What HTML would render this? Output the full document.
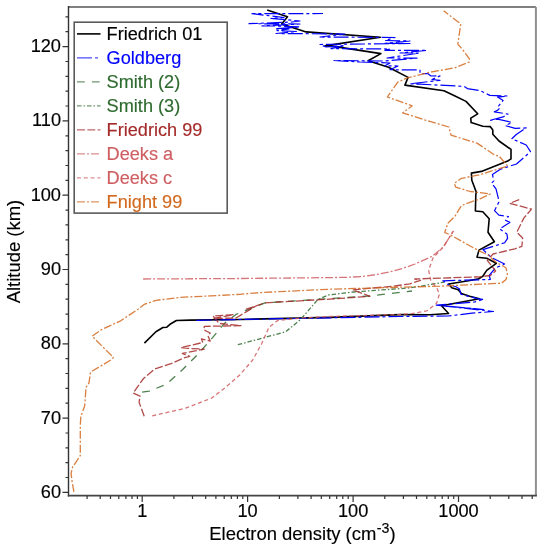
<!DOCTYPE html>
<html><head><meta charset="utf-8"><style>html,body{margin:0;padding:0;background:#fff;width:546px;height:550px;overflow:hidden;}svg{display:block;}</style></head><body>
<svg width="546" height="550" viewBox="0 0 546 550">
<style>text{font-family:"Liberation Sans",Arial,Helvetica,sans-serif;stroke-width:0.15px;}</style>
<rect width="546" height="550" fill="#fff"/>
<g fill="none" stroke-linejoin="round" stroke-linecap="butt">
<polyline points="144.4,343.1 155.9,331.7 162.9,327.5 166.8,327.2 170.0,324.3 176.4,320.5 190.5,320.1 240.0,319.5 330.0,317.4 400.0,314.6 430.0,314.7 448.6,313.5 441.5,305.8 479.4,298.7 469.7,296.2 461.4,293.6 458.2,289.7 451.8,287.8 448.6,284.0 468.5,280.8 478.7,278.8 482.8,276.2 486.7,270.4 496.3,263.3 486.7,258.2 477.0,257.2 479.0,250.1 494.4,241.8 488.0,232.2 489.2,218.7 482.8,211.7 475.4,211.0 475.8,195.0 476.2,191.9 471.8,180.2 471.4,173.1 481.4,171.4 507.7,161.1 511.0,158.9 511.0,149.4 499.0,141.0 492.8,134.3 492.8,130.0 490.2,126.6 482.8,126.3 471.1,122.6 470.8,118.2 477.7,113.8 466.0,101.4 455.0,96.0 444.0,90.8 404.9,85.1 408.1,77.4 388.5,67.3 368.1,60.7 380.9,53.6 335.4,46.6 325.1,45.9 380.3,37.2 306.1,31.9 281.7,24.0 287.5,16.8 267.2,9.9" stroke="#000000" stroke-width="1.6"/>
<polyline points="196.5,320.3 400.0,316.5 448.0,316.0 472.0,313.2 493.5,311.5 442.8,305.8 483.8,309.6 436.4,305.1 474.9,301.9 482.6,299.4 477.4,298.7 460.8,294.2 459.5,289.1 455.6,286.5 449.2,285.3 442.8,280.8 490.3,279.5 489.2,275.5 495.6,267.8 504.6,264.0 491.8,257.8 482.9,249.6 493.1,246.4 504.7,242.7 507.6,238.4 506.9,234.0 499.6,228.9 509.8,222.4 505.5,220.2 508.4,216.5 498.9,215.1 494.5,210.7 498.9,202.0 498.2,197.6 496.0,188.9 491.6,183.1 493.8,180.9 492.4,174.4 500.4,169.2 516.5,164.0 530.5,151.6 526.2,145.0 519.6,142.1 511.9,138.8 516.3,134.5 526.2,127.9 515.2,128.4 505.3,125.7 511.9,122.4 497.6,119.1 488.8,120.7 503.1,116.9 508.0,114.1 494.3,111.9 497.6,110.3 500.3,107.5 498.7,105.9 503.1,100.4 497.6,97.1 507.5,96.0 489.9,95.4 484.4,92.7 480.0,90.5 467.3,88.6 464.0,86.4 420.0,84.2 410.0,83.8 440.0,80.3 432.0,79.5 440.0,75.9 431.0,76.0 428.0,73.7 420.0,73.5 420.0,70.0 390.0,69.7 398.0,66.0 385.0,65.8 390.0,63.0 360.0,62.0 334.0,60.5 385.0,61.0 417.0,58.1 387.0,58.0 420.0,53.0 400.0,53.0 427.0,50.4 385.0,50.4 390.0,49.0 331.0,48.6 345.0,45.5 326.0,47.0 320.0,44.5 410.0,43.5 385.0,43.4 410.0,41.0 385.0,40.5 395.0,37.5 320.0,37.0 345.0,34.0 276.0,33.5 297.0,31.5 277.0,30.6 289.0,29.0 275.0,28.8 300.0,27.0 277.0,26.0 262.0,25.9 300.0,24.0 249.0,23.7 292.0,22.0 300.0,21.0 271.0,18.4 284.0,17.5 252.0,13.7 323.0,13.5" stroke="#0000ff" stroke-width="1.2" stroke-dasharray="15 3 3 3"/>
<polyline points="142.1,392.1 149.2,391.1 166.2,384.3 182.7,369.5 197.5,354.7 211.7,338.7 224.5,323.3 236.0,314.4 247.6,309.9 265.0,302.8 330.0,298.6 369.0,296.0 412.0,291.0" stroke="#2e6b2e" stroke-width="1.3" stroke-dasharray="7.8 7.1" stroke-opacity="0.85"/>
<polyline points="237.8,344.7 261.6,338.3 285.4,331.9 300.1,320.0 317.9,299.5 328.9,294.9 353.0,292.0 410.0,287.9 444.0,282.2" stroke="#2e6b2e" stroke-width="1.3" stroke-dasharray="4.5 2 1.5 2" stroke-opacity="0.85"/>
<polyline points="144.2,416.3 139.1,402.2 140.1,396.1 133.1,393.1 143.5,378.5 154.7,369.0 171.1,363.7 183.8,357.9 189.7,356.4 182.3,353.5 204.3,349.1 188.2,348.4 180.9,347.6 202.8,342.5 201.4,338.8 210.2,341.0 208.0,336.0 210.2,333.0 204.0,330.0 204.3,326.4 241.0,325.6 219.0,323.4 213.1,316.1 233.6,314.7 213.0,318.5 236.0,318.0 254.9,306.6 246.3,309.2 265.0,302.8 330.0,299.1 369.9,296.3 352.6,289.9 395.0,286.0 410.0,283.8 420.5,280.4 414.7,279.0 480.0,276.8 490.5,275.5 495.6,271.0 487.3,260.4 493.1,254.0 514.9,248.8 521.9,246.3 522.6,238.0 516.8,232.2 523.8,218.1 531.5,209.1 509.7,203.3 519.4,199.5" stroke="#a52a2a" stroke-width="1.3" stroke-dasharray="8 2.3" stroke-opacity="0.85"/>
<polyline points="143.1,279.0 240.0,278.5 320.0,277.7 345.0,277.4 362.0,276.6 376.0,274.6 390.0,271.8 402.0,268.6 415.0,264.0 432.3,256.2 443.3,247.0 453.4,231.0" stroke="#cf5e62" stroke-width="1.3" stroke-dasharray="8 2 2 2" stroke-opacity="0.85"/>
<polyline points="152.2,415.9 185.5,408.2 211.7,398.1 225.0,387.8 239.7,374.9 252.5,360.3 261.6,343.8 269.0,327.3 277.6,320.5 303.3,317.8 330.0,316.5 400.0,314.5 412.8,313.4 427.5,310.6 436.6,303.3 439.4,294.2 437.4,289.2 430.8,280.4 428.6,270.2 433.0,258.0 443.3,247.0 453.4,231.0" stroke="#cf5e62" stroke-width="1.3" stroke-dasharray="4 2.8" stroke-opacity="0.85"/>
<polyline points="73.9,491.9 72.0,481.1 71.1,473.4 72.6,467.0 76.5,461.3 80.3,455.6 80.3,425.0 80.9,416.1 84.7,405.9 86.0,387.4 89.0,382.9 90.5,372.1 110.9,360.0 113.4,357.4 92.1,336.2 101.6,329.6 120.7,320.8 138.3,309.0 144.1,304.4 156.2,300.3 180.4,297.3 210.6,295.9 240.0,294.3 260.0,292.6 330.0,289.2 400.0,287.2 440.0,286.2 484.0,284.0 501.5,283.2 506.0,279.6 507.4,273.7 506.0,267.8 495.7,262.0 488.0,255.0 478.1,250.3 467.4,244.5 451.6,235.6 444.7,232.4 447.9,223.2 455.2,215.9 461.5,205.4 480.0,198.8 490.2,194.0 470.3,191.5 455.7,187.1 454.2,183.4 461.5,178.3 480.0,174.7 507.7,166.0 499.0,156.0 494.6,155.0 477.0,143.1 460.0,138.0 451.0,135.1 448.9,127.0 424.0,119.7 402.7,112.8 412.2,105.8 387.3,97.0 397.6,82.3 407.1,77.9 429.9,72.2 454.6,67.8 469.4,62.0 469.4,58.8 462.3,49.2 457.8,44.1 460.8,24.0 443.7,10.8" stroke="#d2691e" stroke-width="1.3" stroke-dasharray="8 2 2 2" stroke-opacity="0.85"/>
</g>
<line x1="68.5" y1="7.0" x2="535.9" y2="7.0" stroke="#808080" stroke-width="2"/>
<line x1="535.9" y1="7.0" x2="535.9" y2="495.7" stroke="#909090" stroke-width="2"/>
<line x1="68.5" y1="6.0" x2="68.5" y2="496.4" stroke="#333" stroke-width="1.4"/>
<line x1="67.8" y1="495.7" x2="536.9" y2="495.7" stroke="#444" stroke-width="1.7"/>
<path d="M62.5 492.4H68.5 M65.5 477.5H68.5 M65.5 462.7H68.5 M65.5 447.8H68.5 M65.5 433.0H68.5 M62.5 418.1H68.5 M65.5 403.2H68.5 M65.5 388.4H68.5 M65.5 373.5H68.5 M65.5 358.7H68.5 M62.5 343.8H68.5 M65.5 328.9H68.5 M65.5 314.1H68.5 M65.5 299.2H68.5 M65.5 284.4H68.5 M62.5 269.5H68.5 M65.5 254.6H68.5 M65.5 239.8H68.5 M65.5 224.9H68.5 M65.5 210.1H68.5 M62.5 195.2H68.5 M65.5 180.3H68.5 M65.5 165.5H68.5 M65.5 150.6H68.5 M65.5 135.8H68.5 M62.5 120.9H68.5 M65.5 106.0H68.5 M65.5 91.2H68.5 M65.5 76.3H68.5 M65.5 61.5H68.5 M62.5 46.6H68.5 M65.5 31.7H68.5 M65.5 16.9H68.5 M87.1 495.7V498.9 M100.2 495.7V498.9 M110.5 495.7V498.9 M118.8 495.7V498.9 M125.9 495.7V498.9 M132.0 495.7V498.9 M137.4 495.7V498.9 M142.2 495.7V501.9 M173.9 495.7V498.9 M192.5 495.7V498.9 M205.7 495.7V498.9 M215.9 495.7V498.9 M224.2 495.7V498.9 M231.3 495.7V498.9 M237.4 495.7V498.9 M242.8 495.7V498.9 M247.6 495.7V501.9 M279.4 495.7V498.9 M297.9 495.7V498.9 M311.1 495.7V498.9 M321.3 495.7V498.9 M329.7 495.7V498.9 M336.7 495.7V498.9 M342.8 495.7V498.9 M348.2 495.7V498.9 M353.1 495.7V501.9 M384.8 495.7V498.9 M403.4 495.7V498.9 M416.5 495.7V498.9 M426.8 495.7V498.9 M435.1 495.7V498.9 M442.2 495.7V498.9 M448.3 495.7V498.9 M453.7 495.7V498.9 M458.5 495.7V501.9 M490.2 495.7V498.9 M508.8 495.7V498.9 M522.0 495.7V498.9 M532.2 495.7V498.9" stroke="#333" stroke-width="1.2" fill="none"/>
<text x="61" y="497.9" text-anchor="end" font-size="18.2" stroke="#000">60</text>
<text x="61" y="423.6" text-anchor="end" font-size="18.2" stroke="#000">70</text>
<text x="61" y="349.3" text-anchor="end" font-size="18.2" stroke="#000">80</text>
<text x="61" y="275.0" text-anchor="end" font-size="18.2" stroke="#000">90</text>
<text x="61" y="200.7" text-anchor="end" font-size="18.2" stroke="#000">100</text>
<text x="61" y="126.4" text-anchor="end" font-size="18.2" stroke="#000">110</text>
<text x="61" y="52.1" text-anchor="end" font-size="18.2" stroke="#000">120</text>
<text x="142.2" y="517.2" text-anchor="middle" font-size="18.2" stroke="#000">1</text>
<text x="247.6" y="517.2" text-anchor="middle" font-size="18.2" stroke="#000">10</text>
<text x="353.1" y="517.2" text-anchor="middle" font-size="18.2" stroke="#000">100</text>
<text x="458.5" y="517.2" text-anchor="middle" font-size="18.2" stroke="#000">1000</text>
<text x="209.3" y="540.4" font-size="18.45" stroke="#000">Electron density (cm<tspan font-size="14.2" dx="0.5" dy="-7.5">-3</tspan><tspan dy="7.5">)</tspan></text>
<text transform="translate(19.8,251.6) rotate(-90)" text-anchor="middle" font-size="18.45" stroke="#000">Altitude (km)</text>
<rect x="74.2" y="22.2" width="153.0" height="190.9" fill="#fff" stroke="#5a5a5a" stroke-width="1.6"/>
<line x1="77" y1="33.9" x2="100.5" y2="33.9" stroke="#000000" stroke-width="1.6"/>
<text x="106.6" y="39.6" font-size="18.15" fill="#000000" stroke="#000000">Friedrich 01</text>
<line x1="77" y1="57.9" x2="100.5" y2="57.9" stroke="#0000ff" stroke-width="1.3" stroke-dasharray="15 3 3 3" stroke-opacity="0.7"/>
<text x="106.6" y="63.6" font-size="18.15" fill="#0000ff" stroke="#0000ff">Goldberg</text>
<line x1="77" y1="81.9" x2="100.5" y2="81.9" stroke="#2e6b2e" stroke-width="1.3" stroke-dasharray="7.8 7.1" stroke-opacity="0.7"/>
<text x="106.6" y="87.6" font-size="18.15" fill="#2e6b2e" stroke="#2e6b2e">Smith (2)</text>
<line x1="77" y1="105.9" x2="100.5" y2="105.9" stroke="#2e6b2e" stroke-width="1.3" stroke-dasharray="4.5 2 1.5 2" stroke-opacity="0.7"/>
<text x="106.6" y="111.6" font-size="18.15" fill="#2e6b2e" stroke="#2e6b2e">Smith (3)</text>
<line x1="77" y1="129.9" x2="100.5" y2="129.9" stroke="#a52a2a" stroke-width="1.3" stroke-dasharray="8 2.3" stroke-opacity="0.7"/>
<text x="106.6" y="135.6" font-size="18.15" fill="#a52a2a" stroke="#a52a2a">Friedrich 99</text>
<line x1="77" y1="153.9" x2="100.5" y2="153.9" stroke="#cf5e62" stroke-width="1.3" stroke-dasharray="8 2 2 2" stroke-opacity="0.7"/>
<text x="106.6" y="159.6" font-size="18.15" fill="#cf5e62" stroke="#cf5e62">Deeks a</text>
<line x1="77" y1="177.9" x2="100.5" y2="177.9" stroke="#cf5e62" stroke-width="1.3" stroke-dasharray="4 2.8" stroke-opacity="0.7"/>
<text x="106.6" y="183.6" font-size="18.15" fill="#cf5e62" stroke="#cf5e62">Deeks c</text>
<line x1="77" y1="201.9" x2="100.5" y2="201.9" stroke="#d2691e" stroke-width="1.3" stroke-dasharray="8 2 2 2" stroke-opacity="0.7"/>
<text x="106.6" y="207.6" font-size="18.15" fill="#d2691e" stroke="#d2691e">Fnight 99</text>
</svg>
</body></html>
